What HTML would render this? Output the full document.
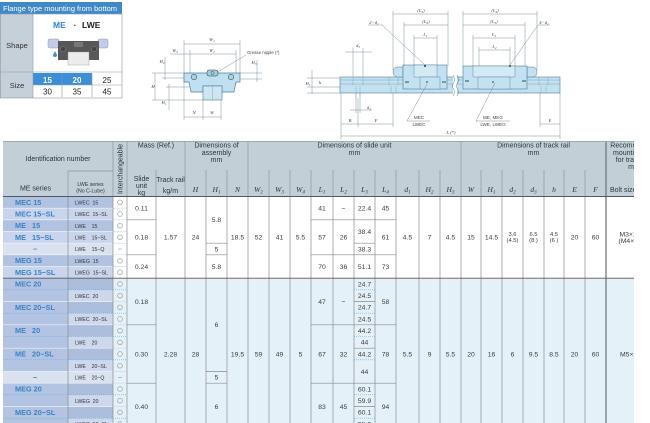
<!DOCTYPE html>
<html><head><meta charset="utf-8"><style>
html,body{margin:0;padding:0;background:#fff;}
svg{display:block;}
text{font-family:"Liberation Sans",sans-serif;}
.d{font-size:6.8px;fill:#3c3c3c;text-anchor:middle;}
.d2{font-size:5.8px;fill:#3c3c3c;text-anchor:middle;}
.h{font-size:7px;fill:#2c363c;text-anchor:middle;}
.hs{font-size:5.2px;fill:#2c363c;text-anchor:middle;}
.s{font-family:"Liberation Serif",serif;font-style:italic;font-size:7.5px;fill:#333;text-anchor:middle;}
.me{font-size:7.3px;font-weight:bold;fill:#3a82c6;white-space:pre;}
.lw{font-size:5.2px;fill:#333;white-space:pre;}
.o{font-size:7px;fill:#999;text-anchor:middle;}
.dm{font-family:"Liberation Serif",serif;font-style:italic;font-size:4.6px;fill:#444;text-anchor:middle;}
.lb{font-size:4.6px;fill:#444;text-anchor:middle;}
</style></head><body>
<svg width="650" height="423" viewBox="0 0 650 423" xmlns="http://www.w3.org/2000/svg">
<defs><clipPath id="tc"><rect x="0" y="0" width="634" height="423"/></clipPath></defs>

<!-- ============ TOP LEFT BOX ============ -->
<rect x="0" y="2" width="122" height="12" fill="#3f89c9"/>
<text x="3" y="11" font-size="7px" fill="#fff" textLength="114" lengthAdjust="spacingAndGlyphs">Flange type mounting from bottom</text>
<rect x="0" y="14" width="33" height="58" fill="#c6d0d8"/>
<rect x="33" y="14" width="89" height="58" fill="#fff"/>
<rect x="0" y="72" width="33" height="26" fill="#c6d0d8"/>
<text x="17" y="48" font-size="7.5px" fill="#333" text-anchor="middle">Shape</text>
<text x="17" y="88" font-size="7.5px" fill="#333" text-anchor="middle">Size</text>
<text x="53" y="28" font-size="8.5px" font-weight="bold" fill="#2f86d0">ME</text>
<text x="75" y="28" font-size="8.5px" font-weight="bold" fill="#333" text-anchor="middle">·</text>
<text x="82" y="28" font-size="8.5px" font-weight="bold" fill="#222">LWE</text>
<rect x="48" y="39" width="11" height="9" rx="2" fill="#c4cbe8" stroke="#8e96b8" stroke-width="0.5"/>
<rect x="98" y="39" width="10" height="9" rx="2" fill="#c4cbe8" stroke="#8e96b8" stroke-width="0.5"/>
<rect x="58" y="41" width="41" height="19" fill="#575757"/>
<rect x="68" y="52" width="21" height="13" fill="#ececec" stroke="#999" stroke-width="0.4"/>
<circle cx="63" cy="49" r="2.6" fill="#444" stroke="#888" stroke-width="0.5"/>
<circle cx="94" cy="49" r="2.6" fill="#444" stroke="#888" stroke-width="0.5"/>
<rect x="74" y="42" width="9" height="5" fill="#777"/>
<path d="M55 51 L53 55 A2 2 0 0 0 57 55 Z" fill="#3d95dc"/>
<rect x="33" y="73" width="29" height="12" fill="#3b8fd8"/>
<rect x="62" y="73" width="30" height="12" fill="#3b8fd8"/>
<rect x="92" y="73" width="30" height="12" fill="#fff"/>
<rect x="33" y="85" width="89" height="12" fill="#fff"/>
<g stroke="#8a9aa8" stroke-width="0.6" fill="none">
<rect x="0.3" y="14" width="121.7" height="84"/>
<line x1="0" y1="72" x2="122" y2="72"/>
<line x1="33" y1="14" x2="33" y2="98"/>
<line x1="33" y1="85" x2="122" y2="85"/>
<line x1="62" y1="73" x2="62" y2="97"/>
<line x1="92" y1="73" x2="92" y2="97"/>
</g>
<text x="47.5" y="83" font-size="8px" font-weight="bold" fill="#fff" text-anchor="middle">15</text>
<text x="77" y="83" font-size="8px" font-weight="bold" fill="#fff" text-anchor="middle">20</text>
<text x="107" y="83" font-size="8px" fill="#222" text-anchor="middle">25</text>
<text x="47.5" y="94.5" font-size="8px" fill="#222" text-anchor="middle">30</text>
<text x="77" y="94.5" font-size="8px" fill="#222" text-anchor="middle">35</text>
<text x="107" y="94.5" font-size="8px" fill="#222" text-anchor="middle">45</text>

<!-- ============ MIDDLE DRAWING ============ -->
<g stroke="#7d909c" stroke-width="0.5" fill="none">
<line x1="184" y1="44" x2="240" y2="44"/>
<line x1="184" y1="40" x2="184" y2="120"/>
<line x1="240" y1="40" x2="240" y2="73"/>
<line x1="170" y1="54" x2="236" y2="54"/>
<line x1="190" y1="50" x2="190" y2="74"/>
<line x1="236" y1="50" x2="236" y2="74"/>
<line x1="155" y1="73" x2="155" y2="100"/>
<line x1="165" y1="57" x2="165" y2="80"/>
<line x1="169" y1="84" x2="169" y2="110"/>
<line x1="152" y1="73" x2="184" y2="73"/>
<line x1="152" y1="100" x2="203" y2="100"/>
<line x1="162" y1="78" x2="184" y2="78"/>
<line x1="166" y1="87" x2="203" y2="87"/>
<line x1="257" y1="60" x2="257" y2="82"/>
<line x1="240" y1="73" x2="262" y2="73"/>
<line x1="240" y1="79" x2="262" y2="79"/>
<line x1="184" y1="117" x2="221" y2="117"/>
<line x1="203" y1="100" x2="203" y2="120"/>
<line x1="221" y1="100" x2="221" y2="120"/>
<line x1="246" y1="55" x2="216" y2="73"/>
<line x1="312" y1="70" x2="312" y2="94"/>
<line x1="307" y1="78" x2="340" y2="78"/>
<line x1="307" y1="87" x2="340" y2="87"/>
<line x1="307" y1="93" x2="340" y2="93"/>
</g>
<path d="M184 73 H240 V82 H236 L234 92 H222 V86 H203 V92 H191 L189 82 H184 Z" fill="#bfe0f0" stroke="#4f7c98" stroke-width="0.7"/>
<rect x="203" y="86" width="19" height="14" fill="#cde6f3" stroke="#4f7c98" stroke-width="0.6"/>
<line x1="212.5" y1="86" x2="212.5" y2="100" stroke="#7d9bb0" stroke-width="0.4"/>
<circle cx="194" cy="77" r="2.8" fill="#a8d2e6" stroke="#333" stroke-width="0.5"/>
<circle cx="231" cy="77" r="2.8" fill="#a8d2e6" stroke="#333" stroke-width="0.5"/>
<rect x="207" y="70" width="11" height="6" rx="2" fill="#9fcde3" stroke="#333" stroke-width="0.5"/>
<circle cx="212.5" cy="73" r="1.6" fill="none" stroke="#333" stroke-width="0.4"/>
<text class="dm" x="212" y="41">W<tspan font-size="3.4" dy="1">1</tspan></text>
<text class="dm" x="175" y="52">W<tspan font-size="3.4" dy="1">3</tspan></text>
<text class="dm" x="212" y="52">W<tspan font-size="3.4" dy="1">2</tspan></text>
<text x="247" y="54" font-size="4.3px" fill="#444">Grease nipple (*)</text>
<text class="dm" x="153" y="88">H</text>
<text class="dm" x="162" y="63">H<tspan font-size="3.4" dy="1">2</tspan></text>
<text class="dm" x="164" y="104">H<tspan font-size="3.4" dy="1">1</tspan></text>
<text class="dm" x="254" y="64">H<tspan font-size="3.4" dy="1">3</tspan></text>
<text class="dm" x="194" y="114">N</text>
<text class="dm" x="212" y="114">W</text>
<text class="dm" x="308" y="85">H<tspan font-size="3.4" dy="1">1</tspan></text>
<text class="dm" x="320" y="84">h</text>

<!-- ============ RIGHT DRAWING ============ -->
<rect x="340" y="77" width="220" height="16" fill="#c3e1f0" stroke="#4f7c98" stroke-width="0.6"/>
<g stroke="#6f93aa" stroke-width="0.4">
<line x1="340" y1="80" x2="560" y2="80"/>
<line x1="340" y1="84" x2="560" y2="84"/>
</g>
<rect x="453" y="74" width="4" height="22" fill="#fff"/>
<path d="M453 75 L455 80 L452 86 L455 92 L453 96 M457 75 L459 80 L456 86 L459 92 L457 96" stroke="#4f7c98" stroke-width="0.5" fill="none"/>
<g stroke="#4f7c98" stroke-width="0.4" fill="none" stroke-dasharray="1.2 0.8">
<line x1="353" y1="78" x2="353" y2="86"/><line x1="363" y1="78" x2="363" y2="86"/>
<line x1="356" y1="86" x2="356" y2="98"/><line x1="360" y1="86" x2="360" y2="98"/>
<line x1="389" y1="78" x2="389" y2="86"/><line x1="398" y1="78" x2="398" y2="86"/>
<line x1="391" y1="86" x2="391" y2="94"/><line x1="396" y1="86" x2="396" y2="94"/>
<line x1="539" y1="78" x2="539" y2="86"/><line x1="548" y1="78" x2="548" y2="86"/>
<line x1="541" y1="86" x2="541" y2="94"/><line x1="546" y1="86" x2="546" y2="94"/>
</g>
<path d="M403 67 H397 A4 5 0 0 0 397 77 H403 Z" fill="#c3e1f0" stroke="#4f7c98" stroke-width="0.5"/>
<rect x="403" y="65" width="44" height="24" fill="#c3e1f0" stroke="#4f7c98" stroke-width="0.6"/>
<rect x="414" y="65" width="23" height="12" fill="#d3eaf5" stroke="#4f7c98" stroke-width="0.4"/>
<rect x="420" y="77" width="20" height="12" fill="#c3e1f0" stroke="#4f7c98" stroke-width="0.4"/>
<circle cx="425" cy="66" r="1" fill="#333"/>
<circle cx="427" cy="82" r="0.8" fill="#333"/>
<path d="M527 67 H533 A4 5 0 0 1 533 77 H527 Z" fill="#c3e1f0" stroke="#4f7c98" stroke-width="0.5"/>
<rect x="463" y="66" width="64" height="23" fill="#c3e1f0" stroke="#4f7c98" stroke-width="0.6"/>
<rect x="473" y="66" width="42" height="11" fill="#d3eaf5" stroke="#4f7c98" stroke-width="0.4"/>
<rect x="478" y="77" width="32" height="12" fill="#c3e1f0" stroke="#4f7c98" stroke-width="0.4"/>
<circle cx="510" cy="66" r="1" fill="#333"/>
<circle cx="493" cy="82" r="0.8" fill="#333"/>
<g stroke="#222" stroke-width="0.8">
<line x1="405" y1="82" x2="409" y2="82"/><line x1="442" y1="82" x2="446" y2="82"/>
<line x1="465" y1="81" x2="469" y2="81"/><line x1="522" y1="81" x2="526" y2="81"/>
</g>
<g stroke="#7d909c" stroke-width="0.5" fill="none">
<line x1="393" y1="14" x2="448" y2="14"/>
<line x1="404" y1="25" x2="448" y2="25"/>
<line x1="414" y1="38" x2="437" y2="38"/>
<line x1="393" y1="11" x2="393" y2="70"/>
<line x1="448" y1="11" x2="448" y2="66"/>
<line x1="404" y1="22" x2="404" y2="66"/>
<line x1="414" y1="35" x2="414" y2="66"/>
<line x1="437" y1="35" x2="437" y2="66"/>
<line x1="463" y1="14" x2="537" y2="14"/>
<line x1="463" y1="25" x2="525" y2="25"/>
<line x1="473" y1="38" x2="515" y2="38"/>
<line x1="479" y1="50" x2="510" y2="50"/>
<line x1="463" y1="11" x2="463" y2="66"/>
<line x1="537" y1="11" x2="537" y2="70"/>
<line x1="525" y1="22" x2="525" y2="66"/>
<line x1="473" y1="35" x2="473" y2="66"/>
<line x1="515" y1="35" x2="515" y2="66"/>
<line x1="479" y1="47" x2="479" y2="66"/>
<line x1="510" y1="47" x2="510" y2="66"/>
<line x1="368" y1="25" x2="382" y2="25"/>
<line x1="382" y1="25" x2="425" y2="65"/>
<line x1="538" y1="25" x2="550" y2="25"/>
<line x1="538" y1="25" x2="510" y2="65"/>
<line x1="345" y1="52" x2="372" y2="52"/>
<line x1="353" y1="48" x2="353" y2="77"/>
<line x1="363" y1="48" x2="363" y2="77"/>
<line x1="350" y1="110" x2="372" y2="110"/>
<line x1="356" y1="93" x2="356" y2="113"/>
<line x1="360" y1="93" x2="360" y2="113"/>
<line x1="341" y1="124" x2="393" y2="124"/>
<line x1="341" y1="93" x2="341" y2="139"/>
<line x1="358" y1="98" x2="358" y2="127"/>
<line x1="393" y1="93" x2="393" y2="127"/>
<line x1="540" y1="124" x2="560" y2="124"/>
<line x1="540" y1="93" x2="540" y2="127"/>
<line x1="560" y1="93" x2="560" y2="139"/>
<line x1="341" y1="136" x2="560" y2="136"/>
<line x1="407" y1="121" x2="430" y2="121"/>
<line x1="407" y1="121" x2="427" y2="84"/>
<line x1="476" y1="121" x2="510" y2="121"/>
<line x1="476" y1="121" x2="495" y2="83"/>
</g>
<text class="dm" x="421" y="12">(L<tspan font-size="3.4" dy="1">4</tspan><tspan dy="-1">)</tspan></text>
<text class="dm" x="426" y="23">(L<tspan font-size="3.4" dy="1">3</tspan><tspan dy="-1">)</tspan></text>
<text class="dm" x="425.5" y="36">L<tspan font-size="3.4" dy="1">1</tspan></text>
<text class="dm" x="495" y="12">(L<tspan font-size="3.4" dy="1">4</tspan><tspan dy="-1">)</tspan></text>
<text class="dm" x="494" y="23">(L<tspan font-size="3.4" dy="1">3</tspan><tspan dy="-1">)</tspan></text>
<text class="dm" x="494" y="36">L<tspan font-size="3.4" dy="1">1</tspan></text>
<text class="dm" x="494.5" y="48">L<tspan font-size="3.4" dy="1">2</tspan></text>
<text class="dm" x="374" y="24">2−d<tspan font-size="3.4" dy="1">1</tspan></text>
<text class="dm" x="544" y="24">4−d<tspan font-size="3.4" dy="1">1</tspan></text>
<text class="dm" x="358" y="47">d<tspan font-size="3.4" dy="1">3</tspan></text>
<text class="dm" x="369" y="109">d<tspan font-size="3.4" dy="1">2</tspan></text>
<text class="dm" x="350" y="122">B</text>
<text class="dm" x="376" y="122">F</text>
<text class="dm" x="550" y="122">E</text>
<text class="dm" x="451" y="134">L (*)</text>
<text class="lb" x="419" y="119">MEC</text>
<text class="lb" x="419" y="126">LWEC</text>
<text class="lb" x="493" y="119">ME, MEG</text>
<text class="lb" x="493" y="126">LWE, LWEG</text>

<!-- ============ TABLE ============ -->
<g clip-path="url(#tc)">
<rect x="3" y="141.5" width="660" height="55" fill="#c2cfd7"/>
<rect x="113" y="196.5" width="550" height="81.7" fill="#fff"/>
<rect x="113" y="278.2" width="550" height="150" fill="#e5f1f9"/>
<g>
<rect x="3" y="196.5" width="110" height="11.67" fill="#b2c3e2"/>
<rect x="3" y="208.17" width="110" height="11.67" fill="#c9d5ec"/>
<rect x="3" y="219.83" width="110" height="11.67" fill="#b2c3e2"/>
<rect x="3" y="231.5" width="110" height="11.67" fill="#c9d5ec"/>
<rect x="3" y="243.17" width="110" height="11.67" fill="#dae2f0"/>
<rect x="3" y="254.83" width="110" height="11.67" fill="#b2c3e2"/>
<rect x="3" y="266.5" width="110" height="11.67" fill="#c9d5ec"/>
</g>
<rect x="3" y="278.17" width="65" height="150" fill="#b3c4e3"/>
<rect x="68" y="278.17" width="45" height="150" fill="#adbedd"/>
<g fill="#cdd8ed">
<rect x="68" y="289.83" width="45" height="11.67"/>
<rect x="68" y="313.17" width="45" height="11.67"/>
<rect x="68" y="336.5" width="45" height="11.67"/>
<rect x="68" y="359.83" width="45" height="11.67"/>
<rect x="68" y="394.83" width="45" height="11.67"/>
<rect x="68" y="418.17" width="45" height="11.67"/>
</g>
<rect x="3" y="371.5" width="110" height="11.67" fill="#dae2f0"/>

<g stroke="#eef2f8" stroke-width="0.7">
<line x1="3" y1="208.17" x2="113" y2="208.17"/>
<line x1="3" y1="219.83" x2="113" y2="219.83"/>
<line x1="3" y1="231.5" x2="113" y2="231.5"/>
<line x1="3" y1="243.17" x2="113" y2="243.17"/>
<line x1="3" y1="254.83" x2="113" y2="254.83"/>
<line x1="3" y1="266.5" x2="113" y2="266.5"/>
<line x1="3" y1="301.5" x2="113" y2="301.5"/>
<line x1="3" y1="324.83" x2="113" y2="324.83"/>
<line x1="3" y1="348.17" x2="113" y2="348.17"/>
<line x1="3" y1="371.5" x2="113" y2="371.5"/>
<line x1="3" y1="383.17" x2="113" y2="383.17"/>
<line x1="3" y1="406.5" x2="113" y2="406.5"/>
</g>
<g stroke="#cfd8e0" stroke-width="0.6">
<line x1="113" y1="208.17" x2="127" y2="208.17"/>
<line x1="113" y1="219.83" x2="127" y2="219.83"/>
<line x1="113" y1="231.5" x2="127" y2="231.5"/>
<line x1="113" y1="243.17" x2="127" y2="243.17"/>
<line x1="113" y1="254.83" x2="127" y2="254.83"/>
<line x1="113" y1="266.5" x2="127" y2="266.5"/>
<line x1="113" y1="301.5" x2="127" y2="301.5"/>
<line x1="113" y1="324.83" x2="127" y2="324.83"/>
<line x1="113" y1="348.17" x2="127" y2="348.17"/>
<line x1="113" y1="371.5" x2="127" y2="371.5"/>
<line x1="113" y1="383.17" x2="127" y2="383.17"/>
<line x1="113" y1="406.5" x2="127" y2="406.5"/>
</g>
<g stroke="#5fb0e2" stroke-width="0.6" stroke-dasharray="1 1">
<line x1="3" y1="289.83" x2="127" y2="289.83"/>
<line x1="3" y1="313.17" x2="127" y2="313.17"/>
<line x1="3" y1="336.5" x2="127" y2="336.5"/>
<line x1="3" y1="359.83" x2="127" y2="359.83"/>
<line x1="3" y1="394.83" x2="127" y2="394.83"/>
<line x1="3" y1="418.17" x2="127" y2="418.17"/>
<line x1="354" y1="289.83" x2="375" y2="289.83"/>
<line x1="354" y1="313.17" x2="375" y2="313.17"/>
<line x1="354" y1="336.5" x2="375" y2="336.5"/>
<line x1="354" y1="359.83" x2="375" y2="359.83"/>
<line x1="354" y1="394.83" x2="375" y2="394.83"/>
<line x1="354" y1="418.17" x2="375" y2="418.17"/>
</g>

<g stroke="#8a8a8a" stroke-width="0.7">
<line x1="127" y1="219.83" x2="156" y2="219.83"/>
<line x1="127" y1="254.83" x2="156" y2="254.83"/>
<line x1="206" y1="243.17" x2="227" y2="243.17"/>
<line x1="206" y1="254.83" x2="227" y2="254.83"/>
<line x1="311" y1="219.83" x2="396" y2="219.83"/>
<line x1="311" y1="254.83" x2="396" y2="254.83"/>
<line x1="354" y1="243.17" x2="375" y2="243.17"/>
<line x1="127" y1="324.83" x2="156" y2="324.83"/>
<line x1="127" y1="383.17" x2="156" y2="383.17"/>
<line x1="206" y1="371.5" x2="227" y2="371.5"/>
<line x1="206" y1="383.17" x2="227" y2="383.17"/>
<line x1="311" y1="324.83" x2="396" y2="324.83"/>
<line x1="311" y1="383.17" x2="396" y2="383.17"/>
<line x1="354" y1="301.5" x2="375" y2="301.5"/>
<line x1="354" y1="348.17" x2="375" y2="348.17"/>
<line x1="354" y1="406.5" x2="375" y2="406.5"/>
</g>

<g stroke="#8c8c8c" stroke-width="0.7">
<line x1="68" y1="196.5" x2="68" y2="423"/>
<line x1="113" y1="196.5" x2="113" y2="423"/>
<line x1="127" y1="196.5" x2="127" y2="423"/>
<line x1="156" y1="196.5" x2="156" y2="423"/>
<line x1="185" y1="196.5" x2="185" y2="423"/>
<line x1="206" y1="196.5" x2="206" y2="423"/>
<line x1="227" y1="196.5" x2="227" y2="423"/>
<line x1="248" y1="196.5" x2="248" y2="423"/>
<line x1="269" y1="196.5" x2="269" y2="423"/>
<line x1="290" y1="196.5" x2="290" y2="423"/>
<line x1="311" y1="196.5" x2="311" y2="423"/>
<line x1="333" y1="196.5" x2="333" y2="423"/>
<line x1="354" y1="196.5" x2="354" y2="423"/>
<line x1="375" y1="196.5" x2="375" y2="423"/>
<line x1="396" y1="196.5" x2="396" y2="423"/>
<line x1="419" y1="196.5" x2="419" y2="423"/>
<line x1="440" y1="196.5" x2="440" y2="423"/>
<line x1="461" y1="196.5" x2="461" y2="423"/>
<line x1="481" y1="196.5" x2="481" y2="423"/>
<line x1="502" y1="196.5" x2="502" y2="423"/>
<line x1="523" y1="196.5" x2="523" y2="423"/>
<line x1="544" y1="196.5" x2="544" y2="423"/>
<line x1="564" y1="196.5" x2="564" y2="423"/>
<line x1="585" y1="196.5" x2="585" y2="423"/>
</g>
<line x1="606" y1="141.5" x2="606" y2="423" stroke="#6f7a80" stroke-width="1.3"/>

<g stroke="#8797a1" stroke-width="0.7">
<line x1="3" y1="141.5" x2="663" y2="141.5"/>
<line x1="113" y1="141.5" x2="113" y2="196.5"/>
<line x1="127" y1="141.5" x2="127" y2="196.5"/>
<line x1="185" y1="141.5" x2="185" y2="196.5"/>
<line x1="248" y1="141.5" x2="248" y2="196.5"/>
<line x1="461" y1="141.5" x2="461" y2="196.5"/>
<line x1="68" y1="171" x2="113" y2="171"/>
<line x1="68" y1="171" x2="68" y2="196.5"/>
<line x1="156" y1="170" x2="156" y2="196.5"/>
<line x1="206" y1="170" x2="206" y2="196.5"/>
<line x1="227" y1="170" x2="227" y2="196.5"/>
<line x1="269" y1="170" x2="269" y2="196.5"/>
<line x1="290" y1="170" x2="290" y2="196.5"/>
<line x1="311" y1="170" x2="311" y2="196.5"/>
<line x1="333" y1="170" x2="333" y2="196.5"/>
<line x1="354" y1="170" x2="354" y2="196.5"/>
<line x1="375" y1="170" x2="375" y2="196.5"/>
<line x1="396" y1="170" x2="396" y2="196.5"/>
<line x1="419" y1="170" x2="419" y2="196.5"/>
<line x1="440" y1="170" x2="440" y2="196.5"/>
<line x1="481" y1="170" x2="481" y2="196.5"/>
<line x1="502" y1="170" x2="502" y2="196.5"/>
<line x1="523" y1="170" x2="523" y2="196.5"/>
<line x1="544" y1="170" x2="544" y2="196.5"/>
<line x1="564" y1="170" x2="564" y2="196.5"/>
<line x1="585" y1="170" x2="585" y2="196.5"/>
</g>
<line x1="3" y1="196.5" x2="663" y2="196.5" stroke="#4f5a60" stroke-width="1.1"/>
<line x1="3" y1="278.17" x2="663" y2="278.17" stroke="#5a5a5a" stroke-width="0.9"/>

<text class="h" x="58" y="161">Identification number</text>
<text class="h" x="35.5" y="190.5">ME series</text>
<text class="hs" x="90.5" y="186">LWE series</text>
<text class="hs" x="90.5" y="192.5">(No C-Lube)</text>
<text class="h" transform="translate(122.5 169) rotate(-90)" font-size="6.5px" textLength="50" lengthAdjust="spacingAndGlyphs">Interchangeable</text>
<text class="h" x="156" y="147.5">Mass (Ref.)</text>
<text class="h" x="141.5" y="181">Slide</text>
<text class="h" x="141.5" y="188">unit</text>
<text class="h" x="141.5" y="195">kg</text>
<text class="h" x="170.5" y="182">Track rail</text>
<text class="h" x="170.5" y="193">kg/m</text>
<text class="h" x="216.5" y="147.5">Dimensions of</text>
<text class="h" x="216.5" y="155">assembly</text>
<text class="h" x="216.5" y="162">mm</text>
<text class="h" x="354.5" y="147.5">Dimensions of slide unit</text>
<text class="h" x="354.5" y="155">mm</text>
<text class="h" x="533.5" y="147.5">Dimensions of track rail</text>
<text class="h" x="533.5" y="155">mm</text>
<text class="h" x="634" y="147.5">Recommended</text>
<text class="h" x="634" y="155">mounting bolt</text>
<text class="h" x="634" y="162">for track rail</text>
<text class="h" x="634" y="169">mm</text>
<text class="h" x="610" y="192" style="text-anchor:start">Bolt size</text>
<g>
<text class="s" x="195.5" y="192">H</text>
<text class="s" x="216.5" y="192">H<tspan font-size="5" dy="1.5">1</tspan></text>
<text class="s" x="237.5" y="192">N</text>
<text class="s" x="258.5" y="192">W<tspan font-size="5" dy="1.5">2</tspan></text>
<text class="s" x="279.5" y="192">W<tspan font-size="5" dy="1.5">3</tspan></text>
<text class="s" x="300.5" y="192">W<tspan font-size="5" dy="1.5">4</tspan></text>
<text class="s" x="322" y="192">L<tspan font-size="5" dy="1.5">1</tspan></text>
<text class="s" x="343.5" y="192">L<tspan font-size="5" dy="1.5">2</tspan></text>
<text class="s" x="364.5" y="192">L<tspan font-size="5" dy="1.5">3</tspan></text>
<text class="s" x="385.5" y="192">L<tspan font-size="5" dy="1.5">4</tspan></text>
<text class="s" x="407.5" y="192">d<tspan font-size="5" dy="1.5">1</tspan></text>
<text class="s" x="429.5" y="192">H<tspan font-size="5" dy="1.5">2</tspan></text>
<text class="s" x="450.5" y="192">H<tspan font-size="5" dy="1.5">3</tspan></text>
<text class="s" x="471" y="192">W</text>
<text class="s" x="491.5" y="192">H<tspan font-size="5" dy="1.5">1</tspan></text>
<text class="s" x="512.5" y="192">d<tspan font-size="5" dy="1.5">2</tspan></text>
<text class="s" x="533.5" y="192">d<tspan font-size="5" dy="1.5">3</tspan></text>
<text class="s" x="554" y="192">h</text>
<text class="s" x="574.5" y="192">E</text>
<text class="s" x="595.5" y="192">F</text>
</g>

<text class="me" x="15" y="204.8">MEC 15</text>
<text class="me" x="15" y="216.5">MEC 15−SL</text>
<text class="me" x="15" y="228.2">ME   15</text>
<text class="me" x="15" y="239.8">ME   15−SL</text>
<text class="me" x="35" y="251.5" text-anchor="middle" fill="#7aa0cc">−</text>
<text class="me" x="15" y="263.2">MEG 15</text>
<text class="me" x="15" y="274.8">MEG 15−SL</text>
<text class="lw" x="75" y="204.5">LWEC  15</text>
<text class="lw" x="75" y="216.2">LWEC  15−SL</text>
<text class="lw" x="75" y="227.9">LWE    15</text>
<text class="lw" x="75" y="239.5">LWE    15−SL</text>
<text class="lw" x="75" y="251.2">LWE    15−Q</text>
<text class="lw" x="75" y="262.9">LWEG  15</text>
<text class="lw" x="75" y="274.5">LWEG  15−SL</text>
<text class="me" x="15" y="286.5">MEC 20</text>
<text class="lw" x="75" y="297.9">LWEC  20</text>
<text class="me" x="15" y="309.8">MEC 20−SL</text>
<text class="lw" x="75" y="321.2">LWEC  20−SL</text>
<text class="me" x="15" y="333.2">ME   20</text>
<text class="lw" x="75" y="344.5">LWE    20</text>
<text class="me" x="15" y="356.5">ME   20−SL</text>
<text class="lw" x="75" y="367.9">LWE    20−SL</text>
<text class="me" x="35" y="379.8" text-anchor="middle" fill="#7aa0cc">−</text>
<text class="lw" x="75" y="379.5">LWE    20−Q</text>
<text class="me" x="15" y="391.5">MEG 20</text>
<text class="lw" x="75" y="402.9">LWEG  20</text>
<text class="me" x="15" y="414.8">MEG 20−SL</text>
<text class="lw" x="75" y="426.2">LWEG  20−SL</text>

<!-- interchangeable circles -->
<g fill="none" stroke="#9a9a9a" stroke-width="0.6">
<circle cx="120" cy="202.3" r="2.4"/>
<circle cx="120" cy="214" r="2.4"/>
<circle cx="120" cy="225.7" r="2.4"/>
<circle cx="120" cy="237.3" r="2.4"/>
<line x1="118" y1="249" x2="122" y2="249"/>
<circle cx="120" cy="260.7" r="2.4"/>
<circle cx="120" cy="272.3" r="2.4"/>
<circle cx="120" cy="284" r="2.4"/>
<circle cx="120" cy="295.7" r="2.4"/>
<circle cx="120" cy="307.3" r="2.4"/>
<circle cx="120" cy="319" r="2.4"/>
<circle cx="120" cy="330.7" r="2.4"/>
<circle cx="120" cy="342.3" r="2.4"/>
<circle cx="120" cy="354" r="2.4"/>
<circle cx="120" cy="365.7" r="2.4"/>
<line x1="118" y1="377.3" x2="122" y2="377.3"/>
<circle cx="120" cy="389" r="2.4"/>
<circle cx="120" cy="400.7" r="2.4"/>
<circle cx="120" cy="412.3" r="2.4"/>
<circle cx="120" cy="424" r="2.4"/>
</g>

<text class="d" x="141.5" y="210.7">0.11</text>
<text class="d" x="141.5" y="239.7">0.18</text>
<text class="d" x="141.5" y="268.9">0.24</text>
<text class="d" x="170.5" y="239.7">1.57</text>
<text class="d" x="195.5" y="239.7">24</text>
<text class="d" x="216.5" y="222.2">5.8</text>
<text class="d" x="216.5" y="251.4">5</text>
<text class="d" x="216.5" y="268.9">5.8</text>
<text class="d" x="237.5" y="239.7">18.5</text>
<text class="d" x="258.5" y="239.7">52</text>
<text class="d" x="279.5" y="239.7">41</text>
<text class="d" x="300.5" y="239.7">5.5</text>
<text class="d" x="322" y="210.7">41</text>
<text class="d" x="322" y="239.7">57</text>
<text class="d" x="322" y="268.9">70</text>
<text class="d" x="343.5" y="210.7">−</text>
<text class="d" x="343.5" y="239.7">26</text>
<text class="d" x="343.5" y="268.9">36</text>
<text class="d" x="364.5" y="210.7">22.4</text>
<text class="d" x="364.5" y="233.9">38.4</text>
<text class="d" x="364.5" y="251.4">38.3</text>
<text class="d" x="364.5" y="268.9">51.1</text>
<text class="d" x="385.5" y="210.7">45</text>
<text class="d" x="385.5" y="239.7">61</text>
<text class="d" x="385.5" y="268.9">73</text>
<text class="d" x="407.5" y="239.7">4.5</text>
<text class="d" x="429.5" y="239.7">7</text>
<text class="d" x="450.5" y="239.7">4.5</text>
<text class="d" x="471" y="239.7">15</text>
<text class="d" x="491.5" y="239.7">14.5</text>
<text class="d2" x="512.5" y="236">3.6</text>
<text class="d2" x="512.5" y="242">(4.5)</text>
<text class="d2" x="533.5" y="236">6.5</text>
<text class="d2" x="533.5" y="242">(8  )</text>
<text class="d2" x="554" y="236">4.5</text>
<text class="d2" x="554" y="242">(6  )</text>
<text class="d" x="574.5" y="239.7">20</text>
<text class="d" x="595.5" y="239.7">60</text>
<text class="d" x="619.5" y="236.5" style="text-anchor:start">M3×16</text>
<text class="d" x="618.5" y="243" style="text-anchor:start">(M4×16)</text>

<text class="d" x="141.5" y="303.9">0.18</text>
<text class="d" x="141.5" y="356.4">0.30</text>
<text class="d" x="141.5" y="408.9">0.40</text>
<text class="d" x="170.5" y="356.4">2.28</text>
<text class="d" x="195.5" y="356.4">28</text>
<text class="d" x="216.5" y="327.2">6</text>
<text class="d" x="216.5" y="379.7">5</text>
<text class="d" x="216.5" y="408.9">6</text>
<text class="d" x="237.5" y="356.4">19.5</text>
<text class="d" x="258.5" y="356.4">59</text>
<text class="d" x="279.5" y="356.4">49</text>
<text class="d" x="300.5" y="356.4">5</text>
<text class="d" x="322" y="303.9">47</text>
<text class="d" x="322" y="356.4">67</text>
<text class="d" x="322" y="408.9">83</text>
<text class="d" x="343.5" y="303.9">−</text>
<text class="d" x="343.5" y="356.4">32</text>
<text class="d" x="343.5" y="408.9">45</text>
<text class="d" x="364.5" y="286.4">24.7</text>
<text class="d" x="364.5" y="298.1">24.5</text>
<text class="d" x="364.5" y="309.7">24.7</text>
<text class="d" x="364.5" y="321.4">24.5</text>
<text class="d" x="364.5" y="333.1">44.2</text>
<text class="d" x="364.5" y="344.7">44</text>
<text class="d" x="364.5" y="356.4">44.2</text>
<text class="d" x="364.5" y="373.9">44</text>
<text class="d" x="364.5" y="391.4">60.1</text>
<text class="d" x="364.5" y="403.1">59.9</text>
<text class="d" x="364.5" y="414.7">60.1</text>
<text class="d" x="364.5" y="426.4">59.9</text>
<text class="d" x="385.5" y="303.9">58</text>
<text class="d" x="385.5" y="356.4">78</text>
<text class="d" x="385.5" y="408.9">94</text>
<text class="d" x="407.5" y="356.4">5.5</text>
<text class="d" x="429.5" y="356.4">9</text>
<text class="d" x="450.5" y="356.4">5.5</text>
<text class="d" x="471" y="356.4">20</text>
<text class="d" x="491.5" y="356.4">16</text>
<text class="d" x="512.5" y="356.4">6</text>
<text class="d" x="533.5" y="356.4">9.5</text>
<text class="d" x="554" y="356.4">8.5</text>
<text class="d" x="574.5" y="356.4">20</text>
<text class="d" x="595.5" y="356.4">60</text>
<text class="d" x="620" y="356.4" style="text-anchor:start">M5×16</text>
</g>
</svg>
</body></html>
